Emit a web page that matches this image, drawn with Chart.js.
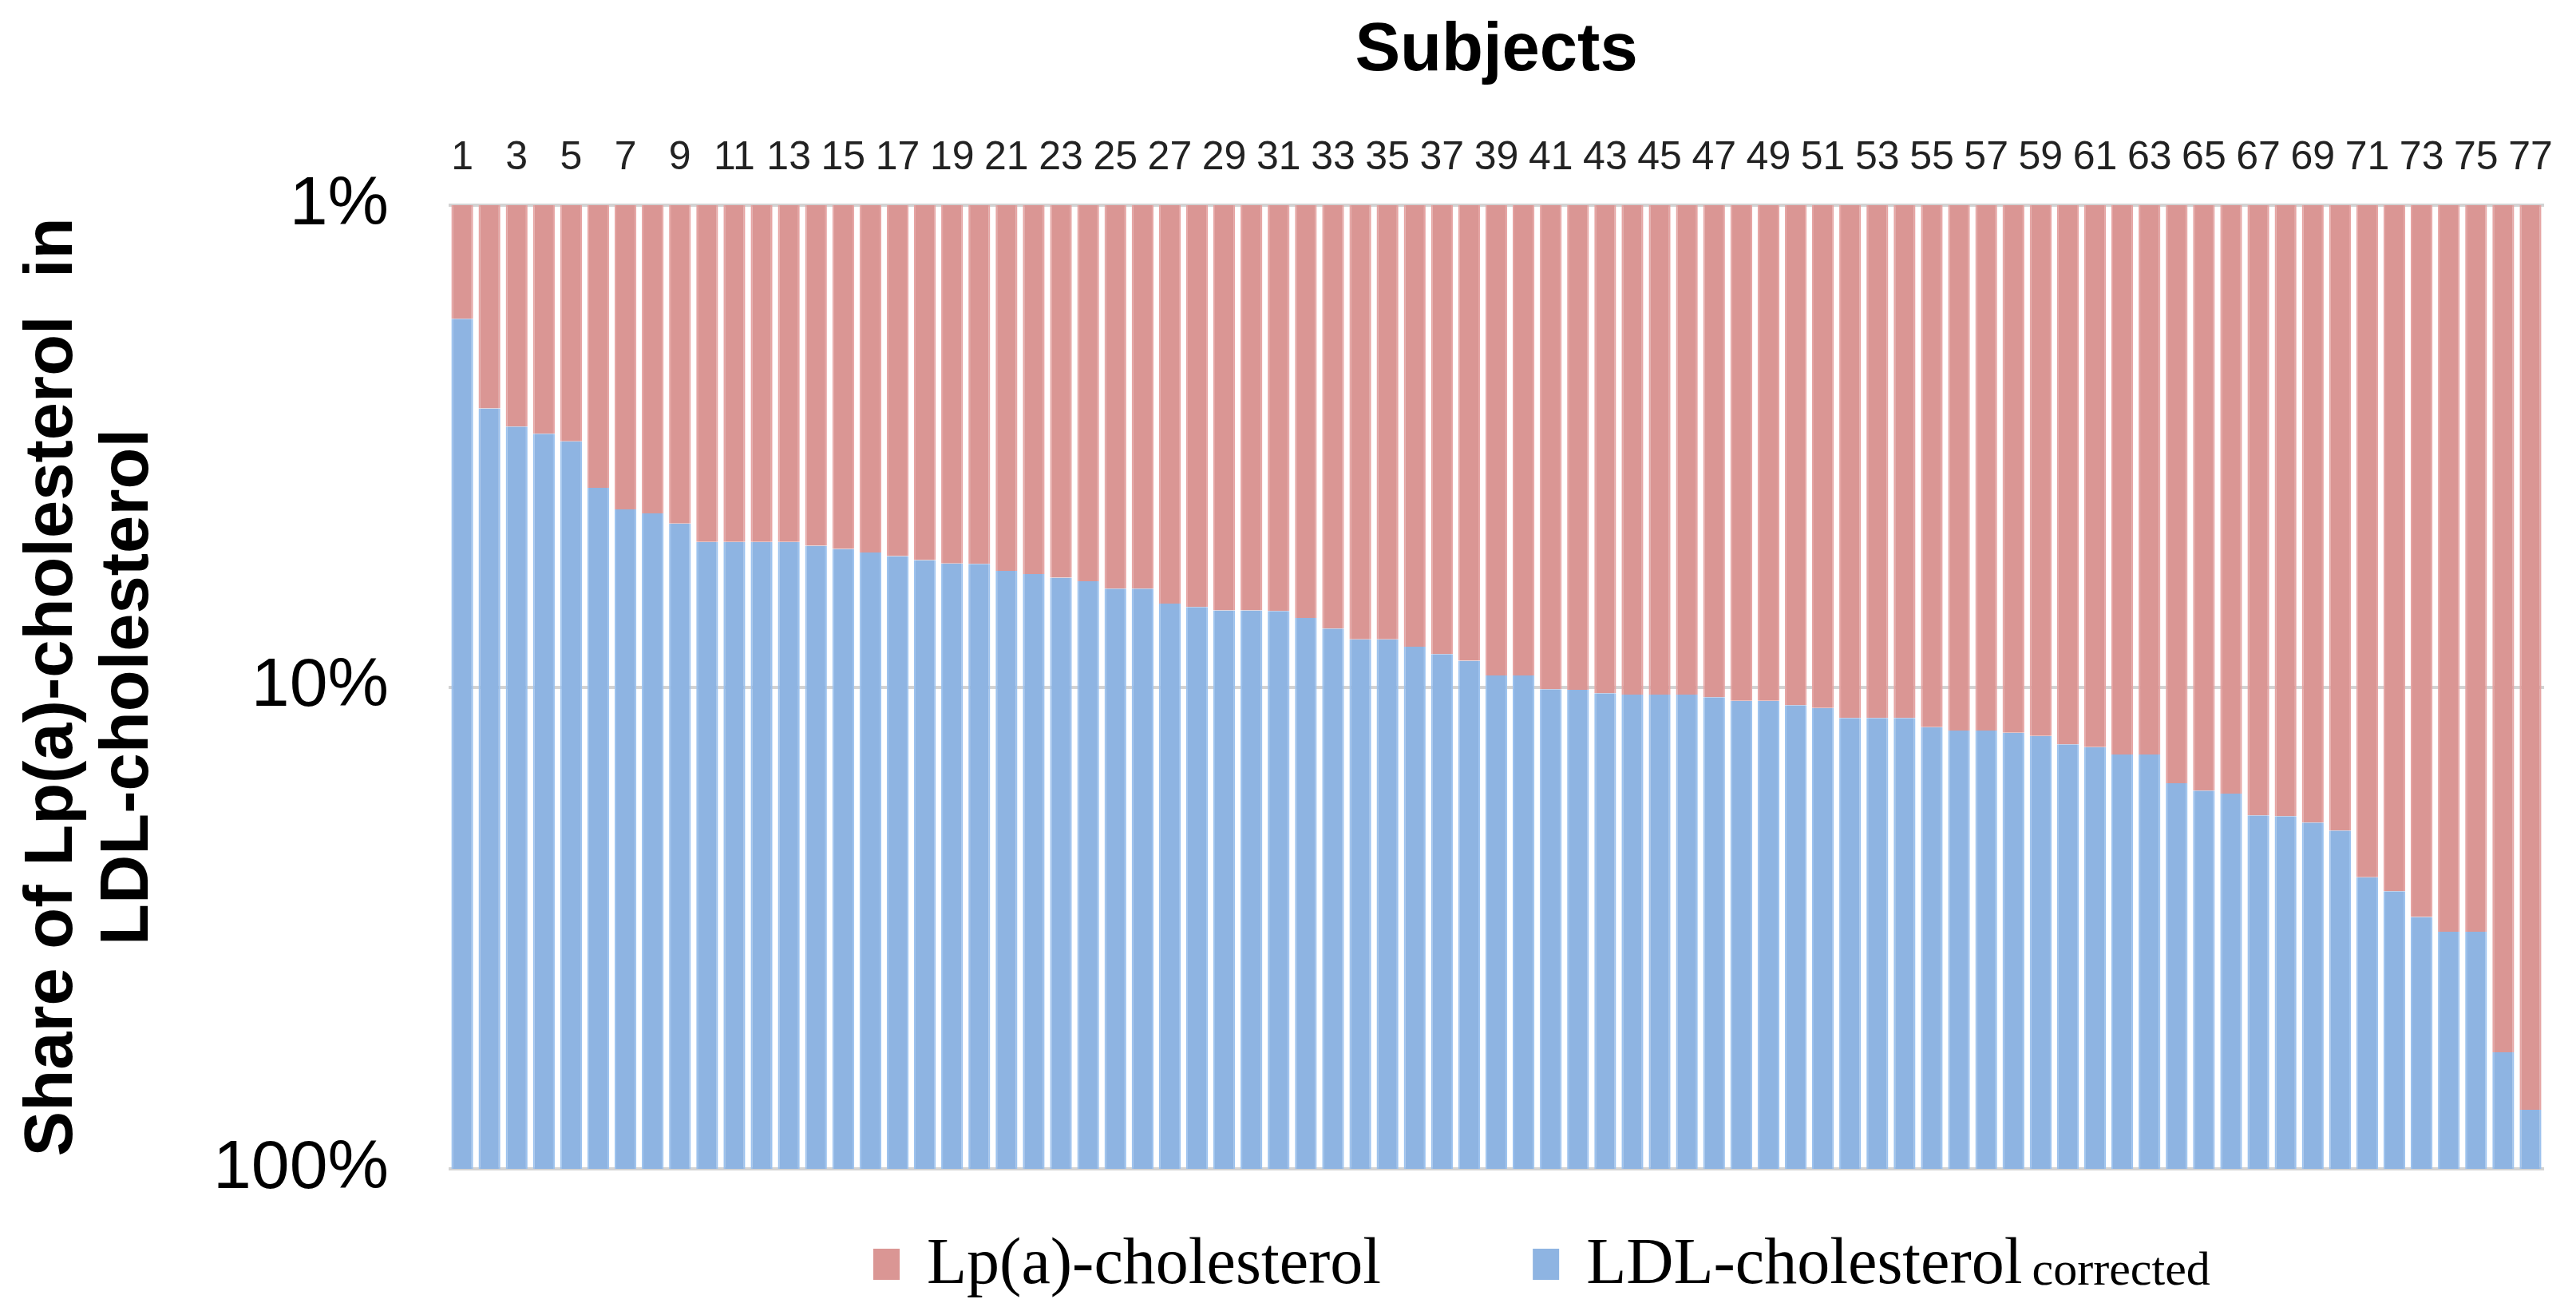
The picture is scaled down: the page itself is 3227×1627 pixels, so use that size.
<!DOCTYPE html>
<html>
<head>
<meta charset="utf-8">
<script src="https://cdn.jsdelivr.net/npm/chart.js@4.4.1/dist/chart.umd.min.js"></script>
<style>
  html, body { margin: 0; padding: 0; background: #ffffff; }
  #wrap { width: 3227px; height: 1627px; }
  canvas { display: block; }
</style>
</head>
<body>
<div id="wrap"><canvas id="c" width="3227" height="1627"></canvas></div>
<script>
// ---- data ----
const subjects = [1,2,3,4,5,6,7,8,9,10,11,12,13,14,15,16,17,18,19,20,21,22,23,24,25,26,27,28,29,30,31,32,33,34,35,36,37,38,39,40,41,42,43,44,45,46,47,48,49,50,51,52,53,54,55,56,57,58,59,60,61,62,63,64,65,66,67,68,69,70,71,72,73,74,75,76,77];
// share of Lp(a)-cholesterol in LDL-cholesterol (%)
const lpaSharePct = [1.72, 2.64, 2.88, 2.98, 3.09, 3.86, 4.28, 4.36, 4.58, 5.00,
                     5.00, 5.00, 5.00, 5.09, 5.17, 5.26, 5.35, 5.45, 5.54, 5.55,
                     5.74, 5.83, 5.93, 6.03, 6.25, 6.25, 6.71, 6.82, 6.93, 6.93,
                     6.95, 7.19, 7.56, 7.96, 7.96, 8.25, 8.54, 8.82, 9.46, 9.46,
                     10.11, 10.13, 10.30, 10.37, 10.37, 10.37, 10.50, 10.68, 10.68, 10.91,
                     11.05, 11.59, 11.59, 11.59, 12.11, 12.31, 12.31, 12.44, 12.63, 13.15,
                     13.32, 13.80, 13.80, 15.84, 16.41, 16.65, 18.47, 18.54, 19.11, 19.85,
                     24.83, 26.54, 30.02, 32.19, 32.19, 57.3, 75.4];
const axisMin = 1;
const axisMax = 100;
const yTickValues = [1, 10, 100];
const seriesNames = ['Lp(a)-cholesterol', 'LDL-cholesterol'];
const seriesSuffixes = ['', 'corrected'];
const xTitleText = 'Subjects';
const yTitleLines = ['Share of Lp(a)-cholesterol  in', 'LDL-cholesterol'];

// ---- styles ----
const RED = '#DA9694';
const BLUE = '#8EB4E2';
const RED_EDGE = '#E6A4A3';
const BLUE_EDGE = '#9CC2EE';
const SANS = "'Liberation Sans', Arial, sans-serif";
const SERIF = "'Liberation Serif', 'Times New Roman', serif";

const legendPlugin = {
  id: 'customLegend',
  afterDraw(chart) {
    const ctx = chart.ctx;
    const colors = chart.data.datasets.map(d => d.backgroundColor);
    ctx.save();
    ctx.textBaseline = 'alphabetic';
    ctx.textAlign = 'left';
    const boxW = 33, boxH = 39, boxTop = 1564, baseline = 1607;
    const gapBoxText = 34, gapItems = 190, suffixGap = 12;
    let x = 1094;
    seriesNames.forEach((name, i) => {
      ctx.fillStyle = colors[i];
      ctx.fillRect(x, boxTop, boxW, boxH);
      x += boxW + gapBoxText;
      ctx.fillStyle = '#000';
      ctx.font = '82px ' + SERIF;
      ctx.fillText(name, x, baseline);
      x += ctx.measureText(name).width;
      if (seriesSuffixes[i]) {
        x += suffixGap;
        ctx.font = '60px ' + SERIF;
        ctx.fillText(seriesSuffixes[i], x, baseline + 2);
        x += ctx.measureText(seriesSuffixes[i]).width;
      }
      x += gapItems;
    });
    ctx.restore();
  }
};

const ctx = document.getElementById('c').getContext('2d');
new Chart(ctx, {
  type: 'bar',
  data: {
    labels: subjects.map(String),
    datasets: [
      {
        label: seriesNames[0],
        data: lpaSharePct.map(v => [axisMin, v]),
        backgroundColor: RED,
        borderColor: RED_EDGE,
        borderWidth: {left: 2, right: 2, top: 0, bottom: 0},
        borderSkipped: false,
        grouped: false,
        barPercentage: 0.8,
        categoryPercentage: 1.0
      },
      {
        label: seriesNames[1] + ' ' + seriesSuffixes[1],
        data: lpaSharePct.map(v => [v, axisMax]),
        backgroundColor: BLUE,
        borderColor: BLUE_EDGE,
        borderWidth: {left: 2, right: 2, top: 0, bottom: 0},
        borderSkipped: false,
        grouped: false,
        barPercentage: 0.8,
        categoryPercentage: 1.0
      }
    ]
  },
  options: {
    responsive: false,
    devicePixelRatio: 1,
    animation: false,
    layout: { padding: { left: 0, top: 0, right: 31, bottom: 163 } },
    plugins: { legend: { display: false }, tooltip: { enabled: false } },
    scales: {
      x: {
        position: 'top',
        offset: true,
        grid: { display: false, drawTicks: false },
        border: { display: false },
        ticks: {
          autoSkip: false,
          maxRotation: 0,
          minRotation: 0,
          padding: 29,
          color: '#222',
          font: { family: SANS, size: 50 },
          callback: function (value, index) { return index % 2 === 0 ? this.getLabelForValue(value) : ''; }
        },
        title: {
          display: true,
          text: xTitleText,
          color: '#000',
          font: { family: SANS, size: 85, weight: 'bold', lineHeight: 1.2 },
          padding: { top: 14, bottom: 0 }
        },
        afterFit: s => { s.height = 257; }
      },
      y: {
        type: 'logarithmic',
        reverse: true,
        min: axisMin,
        max: axisMax,
        z: 1,
        afterBuildTicks: s => { s.ticks = yTickValues.map(v => ({ value: v })); },
        grid: { color: 'rgba(175,175,175,0.55)', lineWidth: 4, drawTicks: false },
        border: { display: false },
        ticks: {
          padding: 75,
          color: '#000',
          font: { family: SANS, size: 86 },
          callback: v => v + '%'
        },
        title: {
          display: true,
          text: yTitleLines,
          color: '#000',
          font: { family: SANS, size: 85, weight: 'bold', lineHeight: 1.12 },
          padding: { top: 19, bottom: 0 }
        },
        afterFit: s => { s.width = 562; }
      }
    }
  },
  plugins: [legendPlugin]
});
</script>
</body>
</html>
